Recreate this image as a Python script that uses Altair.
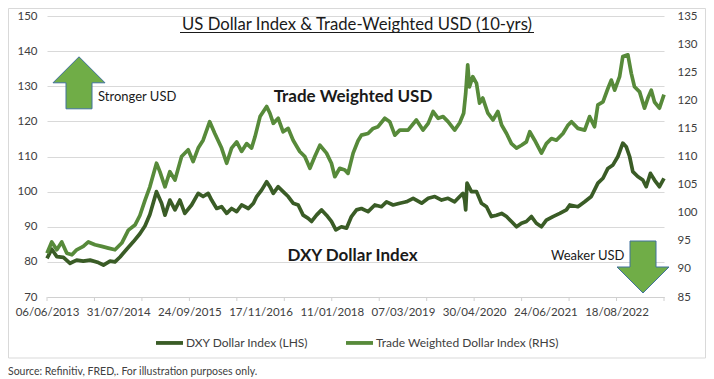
import altair as alt
import pandas as pd

# ---------------- data ----------------
dxy_dates = [
    "2013-06-06", "2013-07-04", "2013-08-03", "2013-09-11", "2013-10-20", "2013-11-28",
    "2014-01-06", "2014-02-15", "2014-04-05", "2014-05-05", "2014-06-13", "2014-07-12",
    "2014-08-11", "2014-09-19", "2014-10-28", "2014-12-06", "2015-01-05", "2015-02-03",
    "2015-03-14", "2015-04-13", "2015-05-03", "2015-06-01", "2015-07-01", "2015-07-30",
    "2015-08-28", "2015-10-07", "2015-11-15", "2015-12-14", "2016-01-13", "2016-02-02",
    "2016-03-03", "2016-04-01", "2016-05-01", "2016-05-30", "2016-06-29", "2016-07-28",
    "2016-09-06", "2016-10-06", "2016-10-25", "2016-11-24", "2016-12-23", "2017-01-11",
    "2017-01-31", "2017-03-01", "2017-03-30", "2017-04-29", "2017-05-28", "2017-06-27",
    "2017-07-26", "2017-08-25", "2017-09-14", "2017-10-13", "2017-11-12", "2017-12-11",
    "2018-01-09", "2018-02-04", "2018-03-09", "2018-04-08", "2018-05-07", "2018-06-06",
    "2018-07-05", "2018-08-13", "2018-09-22", "2018-10-31", "2018-11-30", "2019-01-08",
    "2019-02-16", "2019-03-27", "2019-05-06", "2019-06-25", "2019-08-03", "2019-09-11",
    "2019-10-21", "2019-11-28", "2020-01-06", "2020-02-05", "2020-02-24", "2020-03-05",
    "2020-03-11", "2020-03-19", "2020-04-14", "2020-05-14", "2020-06-12", "2020-07-12",
    "2020-08-10", "2020-09-09", "2020-10-09", "2020-11-07", "2020-12-06", "2021-01-05",
    "2021-02-03", "2021-03-04", "2021-04-03", "2021-05-02", "2021-06-01", "2021-06-30",
    "2021-08-08", "2021-09-17", "2021-10-26", "2021-11-15", "2022-01-02", "2022-02-11",
    "2022-03-22", "2022-04-30", "2022-05-30", "2022-06-28", "2022-07-28", "2022-08-26",
    "2022-09-24", "2022-10-14", "2022-11-03", "2022-11-22", "2022-12-21", "2023-01-20",
    "2023-02-09", "2023-03-06", "2023-03-30", "2023-04-28", "2023-05-25",
]
dxy_values = [
    81.0, 83.6, 81.5, 81.3, 79.6, 80.5,
    80.2, 80.5, 79.8, 79.1, 80.2, 80.0,
    81.4, 83.6, 85.7, 88.0, 90.2, 93.5,
    100.0, 96.7, 93.3, 97.6, 94.8, 97.6,
    93.8, 96.2, 99.5, 98.6, 99.5, 97.6,
    95.2, 95.7, 93.8, 95.2, 94.3, 96.2,
    95.2, 96.7, 98.6, 100.5, 102.8, 101.4,
    99.5, 101.4, 100.0, 98.6, 96.7, 96.2,
    93.3, 92.4, 91.5, 93.3, 94.8, 93.3,
    91.5, 89.1, 90.0, 89.6, 92.9, 94.8,
    95.2, 94.3, 96.2, 95.7, 97.1, 96.2,
    96.7, 97.1, 98.1, 96.7, 98.1, 98.6,
    97.6, 98.1, 97.1, 98.6, 99.5, 97.6,
    94.8, 102.4, 100.0, 100.0, 96.7, 95.7,
    92.9, 93.3, 93.8, 92.9, 91.5, 90.0,
    91.0, 91.5, 92.9, 91.0, 90.0, 91.9,
    92.9, 93.8, 94.8, 96.2, 95.7, 97.1,
    98.6, 102.4, 103.8, 106.6, 107.6, 110.0,
    113.8, 112.8, 110.0, 105.7, 104.3, 103.3,
    101.4, 105.2, 103.3, 101.4, 103.8,
]

tw_dates = [
    "2013-06-06", "2013-07-04", "2013-08-03", "2013-09-01", "2013-10-01", "2013-10-31",
    "2013-11-28", "2014-01-06", "2014-02-05", "2014-03-16", "2014-04-25", "2014-06-03",
    "2014-07-12", "2014-08-21", "2014-09-29", "2014-11-07", "2014-12-06", "2015-01-05",
    "2015-02-03", "2015-03-14", "2015-04-03", "2015-05-03", "2015-06-01", "2015-07-01",
    "2015-08-09", "2015-09-17", "2015-10-16", "2015-11-15", "2015-12-14", "2016-01-22",
    "2016-02-21", "2016-04-01", "2016-05-01", "2016-05-30", "2016-06-29", "2016-07-28",
    "2016-08-27", "2016-09-25", "2016-10-15", "2016-11-14", "2016-12-23", "2017-01-11",
    "2017-01-31", "2017-03-01", "2017-03-30", "2017-04-29", "2017-05-28", "2017-07-06",
    "2017-08-05", "2017-09-04", "2017-10-03", "2017-11-02", "2017-12-11", "2018-01-09",
    "2018-01-29", "2018-02-27", "2018-03-29", "2018-04-17", "2018-05-17", "2018-06-15",
    "2018-07-05", "2018-08-13", "2018-09-12", "2018-10-11", "2018-11-20", "2018-12-19",
    "2019-01-18", "2019-02-16", "2019-04-06", "2019-05-25", "2019-07-03", "2019-08-03",
    "2019-09-01", "2019-10-01", "2019-10-30", "2019-11-28", "2020-01-06", "2020-02-05",
    "2020-02-28", "2020-03-11", "2020-03-23", "2020-04-02", "2020-04-22", "2020-05-14",
    "2020-06-01", "2020-06-20", "2020-07-20", "2020-08-19", "2020-09-17", "2020-10-09",
    "2020-11-07", "2020-12-06", "2021-01-05", "2021-02-03", "2021-03-04", "2021-03-24",
    "2021-04-22", "2021-06-01", "2021-06-30", "2021-07-30", "2021-08-28", "2021-10-06",
    "2021-11-03", "2021-11-25", "2022-01-02", "2022-02-11", "2022-03-12", "2022-04-10",
    "2022-04-30", "2022-05-30", "2022-06-28", "2022-07-18", "2022-08-07", "2022-09-05",
    "2022-09-24", "2022-10-24", "2022-11-13", "2022-12-02", "2023-01-01", "2023-01-30",
    "2023-02-19", "2023-03-11", "2023-03-30", "2023-04-28", "2023-05-25",
]
tw_values = [
    92.8, 94.8, 93.4, 94.8, 92.8, 92.5,
    93.4, 94.0, 94.8, 94.3, 94.0, 93.7,
    93.4, 94.6, 96.9, 97.8, 99.5, 102.2,
    104.6, 108.8, 107.3, 104.6, 107.3, 105.8,
    110.0, 111.2, 109.1, 111.5, 112.9, 116.2,
    114.1, 111.5, 108.8, 111.5, 112.6, 110.9,
    112.3, 111.5, 113.5, 117.1, 118.9, 117.7,
    115.9, 116.8, 114.4, 115.0, 112.9, 110.9,
    110.0, 107.9, 110.0, 112.0, 110.6, 108.8,
    106.4, 107.9, 107.6, 107.0, 110.6, 112.8,
    113.8, 114.1, 115.0, 115.3, 116.8, 116.2,
    113.8, 114.7, 114.7, 116.5, 114.7, 115.9,
    118.0, 116.8, 117.1, 116.2, 114.7, 116.0,
    117.7, 121.2, 126.3, 122.4, 124.2, 123.0,
    119.5, 120.4, 117.7, 116.5, 118.0, 115.6,
    114.1, 112.3, 111.5, 112.0, 112.6, 114.4,
    112.9, 110.6, 112.3, 113.2, 112.9, 114.1,
    115.5, 116.2, 115.0, 114.7, 117.1, 115.3,
    119.2, 119.7, 122.1, 123.6, 121.8, 124.2,
    127.8, 128.1, 124.8, 122.4, 121.5, 118.6,
    120.4, 121.8, 119.7, 118.6, 121.0,
]

series_names = ["DXY Dollar Index (LHS)", "Trade Weighted Dollar Index (RHS)"]
series_colors = ["#3A5C26", "#578A3A"]

x_label_dates = ["2013-06-06", "2014-07-31", "2015-09-24", "2016-11-17", "2018-01-11",
                 "2019-03-07", "2020-04-30", "2021-06-24", "2022-08-18"]
x_domain = ["2013-06-06", "2023-05-25"]
left_ticks = [70, 80, 90, 100, 110, 120, 130, 140, 150]
right_ticks = [85, 90, 95, 100, 105, 110, 115, 120, 125, 130, 135]

title_text = "US Dollar Index & Trade-Weighted USD (10-yrs)"
source_text = "Source: Refinitiv, FRED,. For illustration purposes only."

FONT = "Lato"
LABEL_COLOR = "#404040"


def dt(s):
    t = pd.Timestamp(s)
    return alt.DateTime(year=t.year, month=t.month, date=t.day, utc=True)


dxy_df = pd.DataFrame({"date": dxy_dates, "dxy": dxy_values, "series": series_names[0]})
tw_df = pd.DataFrame({"date": tw_dates, "tw": tw_values, "series": series_names[1]})
tick_df = pd.DataFrame({"date": pd.date_range(x_domain[0], x_domain[1], freq="280D").strftime("%Y-%m-%d")})

x_enc = alt.X(
    "date:T",
    scale=alt.Scale(type="utc", domain=[dt(d) for d in x_domain]),
    axis=alt.Axis(
        values=[dt(d) for d in x_label_dates],
        labelExpr="utcFormat(datum.value, '%d/%m/%Y')",
        title=None, ticks=False, grid=False,
        domainColor="#D0D0D0", domainWidth=1,
        labelFont=FONT, labelFontSize=11.5, labelColor=LABEL_COLOR,
        labelPadding=9, labelFlush=False, labelOverlap=False,
    ),
)

color_enc = alt.Color(
    "series:N",
    scale=alt.Scale(domain=series_names, range=series_colors),
    legend=alt.Legend(
        orient="none", legendX=107, legendY=311, direction="horizontal",
        title=None, symbolType="stroke", symbolSize=729, symbolStrokeWidth=3.8,
        labelFont=FONT, labelFontSize=12, labelColor=LABEL_COLOR, labelLimit=0,
        labelOffset=1, columnPadding=29, padding=0,
    ),
)

dxy_line = alt.Chart(dxy_df).mark_line(strokeWidth=3.7, strokeJoin="round").encode(
    x=x_enc,
    y=alt.Y("dxy:Q",
            scale=alt.Scale(domain=[70, 150], nice=False, zero=False),
            axis=alt.Axis(values=left_ticks, title=None, domain=False, ticks=False,
                          grid=True, gridColor="#D9D9D9", gridWidth=1,
                          labelFont=FONT, labelFontSize=11.5, labelColor=LABEL_COLOR,
                          labelPadding=10)),
    color=color_enc,
)

tw_line = alt.Chart(tw_df).mark_line(strokeWidth=3.7, strokeJoin="round").encode(
    x=x_enc,
    y=alt.Y("tw:Q",
            scale=alt.Scale(domain=[85, 135], nice=False, zero=False),
            axis=alt.Axis(values=right_ticks, orient="right", title=None, domain=False,
                          ticks=False, grid=False,
                          labelFont=FONT, labelFontSize=11.5, labelColor=LABEL_COLOR,
                          labelPadding=13)),
    color=color_enc,
)

tick_marks = alt.Chart(tick_df).mark_rule(color="#D0D0D0", strokeWidth=1).encode(
    x=x_enc, y=alt.value(281), y2=alt.value(285)
)

one = pd.DataFrame({"k": [0]})


def label(text, x, y, size, weight="normal", align="left", color="#1a1a1a", baseline="middle"):
    return alt.Chart(one).mark_text(
        text=text, font=FONT, fontSize=size, fontWeight=weight, align=align,
        baseline=baseline, color=color,
    ).encode(x=alt.value(x), y=alt.value(y))


title_mark = label(title_text, 310, 14, 16.7, align="center", baseline="alphabetic")
underline = alt.Chart(one).mark_rule(color="#1a1a1a", strokeWidth=1).encode(
    x=alt.value(133), x2=alt.value(487), y=alt.value(16.5)
)
stronger = label("Stronger USD", 51, 81, 13)
weaker = label("Weaker USD", 504, 240, 13)
tw_label = label("Trade Weighted USD", 306, 81, 17, weight="bold", align="center")
dxy_label = label("DXY Dollar Index", 305.5, 240, 17, weight="bold", align="center")
source = label(source_text, -39, 355.5, 10.5, color="#404040")

up_path = "M0,-1 L1,0 L0.5,0 L0.5,1 L-0.5,1 L-0.5,0 L-1,0 Z"
down_path = "M0,1 L1,0 L0.5,0 L0.5,-1 L-0.5,-1 L-0.5,0 L-1,0 Z"
up_arrow = alt.Chart(one).mark_point(
    shape=up_path, filled=True, fill="#70AD47", stroke="#41719C", strokeWidth=1, opacity=1
).encode(x=alt.value(32), y=alt.value(66.8), size=alt.value(2704))
down_arrow = alt.Chart(one).mark_point(
    shape=down_path, filled=True, fill="#70AD47", stroke="#41719C", strokeWidth=1, opacity=1
).encode(x=alt.value(596), y=alt.value(251), size=alt.value(2704))

frame = alt.Chart(one).mark_rect(fillOpacity=0, stroke="#D9D9D9", strokeWidth=1).encode(
    x=alt.value(-38.5), x2=alt.value(658.5), y=alt.value(-7.5), y2=alt.value(342)
)

chart = alt.layer(
    frame, tick_marks, dxy_line, tw_line,
    up_arrow, down_arrow,
    title_mark, underline, stronger, weaker, tw_label, dxy_label, source,
).resolve_scale(y="independent").properties(
    width=617, height=281,
    padding={"left": 39, "top": 8, "right": 42, "bottom": 82},
    autosize=alt.AutoSizeParams(type="none"),
    background="white",
).configure_view(stroke=None)

chart.save("out.html", embed_options={"renderer": "svg", "actions": False})
